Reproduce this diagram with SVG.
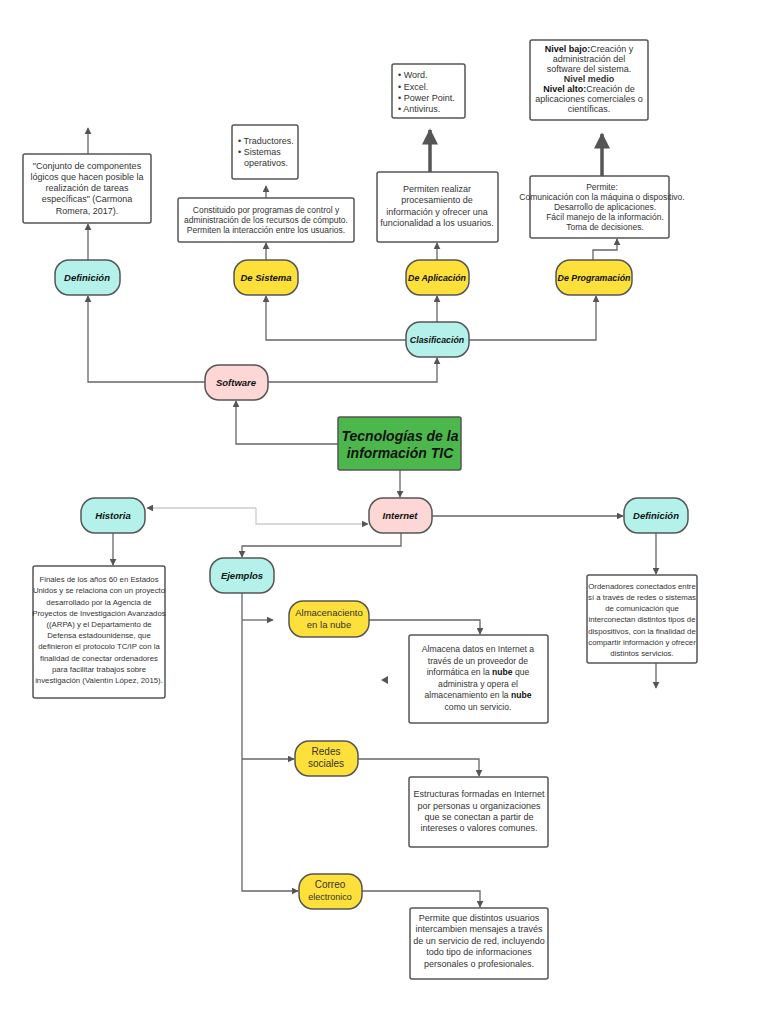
<svg xmlns="http://www.w3.org/2000/svg" width="768" height="1024" viewBox="0 0 768 1024">
<style>
.pill{stroke:#555;stroke-width:1.5}
.cy{fill:#b4f1ea}.ye{fill:#fde03a}.pk{fill:#fdd6d6}
.box{fill:#fff;stroke:#555;stroke-width:1.5}
.pt{font-family:"Liberation Sans",Arial,sans-serif;font-size:9.5px;font-weight:bold;font-style:italic;fill:#111;text-anchor:middle}
.t{font-family:"Liberation Sans",Arial,sans-serif;font-size:9px;fill:#333;text-anchor:middle}
.n{font-family:"Liberation Sans",Arial,sans-serif;font-size:7.8px;fill:#333;text-anchor:middle}
.tl{font-family:"Liberation Sans",Arial,sans-serif;font-size:9px;fill:#333}
.pn{font-family:"Liberation Sans",Arial,sans-serif;font-size:10px;fill:#333;text-anchor:middle}
.c{fill:none;stroke:#666;stroke-width:1.3}
.thick{fill:none;stroke:#555;stroke-width:3.5}
.tic{font-size:14px}
.sm{font-size:8.5px}
.pts{font-size:8.8px}
</style>
<defs>
<marker id="a" viewBox="0 0 10 10" refX="9" refY="5" markerWidth="7" markerHeight="7" markerUnits="userSpaceOnUse" orient="auto"><path d="M0,0L10,5L0,10z" fill="#555"/></marker>
<marker id="big" viewBox="0 0 10 10" refX="9" refY="5" markerWidth="22" markerHeight="16" markerUnits="userSpaceOnUse" orient="auto"><path d="M0,0L10,5L0,10z" fill="#555"/></marker>
</defs>
<rect width="768" height="1024" fill="#fff"/>
<g id="connectors">
<path class="c" d="M338,444H236V401" marker-end="url(#a)"/>
<path class="c" d="M205,382H88V296" marker-end="url(#a)"/>
<path class="c" d="M268,382H437V358" marker-end="url(#a)"/>
<path class="c" d="M406,340H266V296" marker-end="url(#a)"/>
<path class="c" d="M469,340H596V296" marker-end="url(#a)"/>
<path class="c" d="M437,322V296" marker-end="url(#a)"/>
<path class="c" d="M88,260V224" marker-end="url(#a)"/>
<path class="c" d="M88,154V128" marker-end="url(#a)"/>
<path class="c" d="M266,260V243" marker-end="url(#a)"/>
<path class="c" d="M266,198V186" marker-end="url(#a)"/>
<path class="c" d="M437,260V243" marker-end="url(#a)"/>
<path class="thick" d="M430,172V130" marker-end="url(#big)"/>
<path class="c" d="M593,260V250H617V239" marker-end="url(#a)"/>
<path class="thick" d="M602,176V134" marker-end="url(#big)"/>
<path class="c" d="M400,470V497" marker-end="url(#a)"/>
<path d="M256,508H147" fill="none" stroke="#ccc" stroke-width="1.3" marker-end="url(#a)"/>
<path d="M256,508V524H368" fill="none" stroke="#ccc" stroke-width="1.3" marker-end="url(#a)"/>
<path class="c" d="M432,516H623" marker-end="url(#a)"/>
<path class="c" d="M401,533V546H242V557" marker-end="url(#a)"/>
<path class="c" d="M242,593V891H298" marker-end="url(#a)"/>
<path class="c" d="M242,620H273" marker-end="url(#a)"/>
<path class="c" d="M242,759H294" marker-end="url(#a)"/>
<path class="c" d="M369,620H480V634" marker-end="url(#a)"/>
<path class="c" d="M358,759H479V776" marker-end="url(#a)"/>
<path class="c" d="M362,891H480V907" marker-end="url(#a)"/>
<path class="c" d="M113,533V565" marker-end="url(#a)"/>
<path class="c" d="M656,533V574" marker-end="url(#a)"/>
<path class="c" d="M656,663V688" marker-end="url(#a)"/>
<path d="M381,680L388,676V684z" fill="#555"/>
</g>
<g id="def-box"><rect class="box" x="23" y="154" width="128" height="69" rx="2"/>
<text class="t" x="87" y="169">"Conjunto de componentes</text><text class="t" x="87" y="180">lógicos que hacen posible la</text><text class="t" x="87" y="191">realización de tareas</text><text class="t" x="87" y="202">específicas" (Carmona</text><text class="t" x="87" y="214">Romera, 2017).</text></g>
<g id="definicion"><rect class="pill cy" x="55" y="260" width="65" height="35" rx="14"/><text class="pt" x="87" y="281">Definición</text></g>
<g id="sistema-list"><rect class="box" x="232" y="125" width="66" height="54" rx="2"/>
<text class="tl" x="238" y="144">• Traductores.</text><text class="tl" x="238" y="155">• Sistemas</text><text class="tl" x="244" y="166">operativos.</text></g>
<g id="sistema-box"><rect class="box" x="178" y="198" width="176" height="44" rx="2"/>
<text class="t sm" x="266" y="213">Constituido por programas de control y</text><text class="t sm" x="266" y="223">administración de los recursos de cómputo.</text><text class="t sm" x="266" y="233">Permiten la interacción entre los usuarios.</text></g>
<g id="de-sistema"><rect class="pill ye" x="234" y="260" width="64" height="35" rx="14"/><text class="pt" x="266" y="281">De Sistema</text></g>
<g id="word-box"><rect class="box" x="392" y="64" width="73" height="54" rx="2"/>
<text class="tl" x="398" y="78">• Word.</text><text class="tl" x="398" y="90">• Excel.</text><text class="tl" x="398" y="101">• Power Point.</text><text class="tl" x="398" y="112">• Antivirus.</text></g>
<g id="app-box"><rect class="box" x="377" y="172" width="121" height="70" rx="2"/>
<text class="t" x="437" y="192">Permiten realizar</text><text class="t" x="437" y="203">procesamiento de</text><text class="t" x="437" y="215">información y ofrecer una</text><text class="t" x="437" y="226">funcionalidad a los usuarios.</text></g>
<g id="de-aplicacion"><rect class="pill ye" x="406" y="260" width="63" height="35" rx="14"/><text class="pt pts" x="437" y="281">De Aplicación</text></g>
<g id="nivel-box"><rect class="box" x="530" y="40" width="118" height="80" rx="2"/>
<text class="t" x="589" y="52"><tspan font-weight="bold" fill="#111">Nivel bajo:</tspan>Creación y</text><text class="t" x="589" y="62">administración del</text><text class="t" x="589" y="72">software del sistema.</text><text class="t" x="589" y="82" font-weight="bold" fill="#111">Nivel medio</text><text class="t" x="589" y="92"><tspan font-weight="bold" fill="#111">Nivel alto:</tspan>Creación de</text><text class="t" x="589" y="102">aplicaciones comerciales o</text><text class="t" x="589" y="112">científicas.</text></g>
<g id="prog-box"><rect class="box" x="530" y="176" width="139" height="62" rx="2"/>
<text class="t sm" x="602" y="190">Permite:</text><text class="t sm" x="602" y="200">Comunicación con la máquina o dispositivo.</text><text class="t sm" x="605" y="210">Desarrollo de aplicaciones.</text><text class="t sm" x="605" y="220">Fácil manejo de la información.</text><text class="t sm" x="605" y="230">Toma de decisiones.</text></g>
<g id="de-programacion"><rect class="pill ye" x="556" y="260" width="76" height="35" rx="14"/><text class="pt pts" x="594" y="281">De Programación</text></g>
<g id="clasificacion"><rect class="pill cy" x="406" y="322" width="63" height="35" rx="14"/><text class="pt pts" x="437" y="343">Clasificación</text></g>
<g id="software"><rect class="pill pk" x="205" y="365" width="63" height="35" rx="14"/><text class="pt" x="236" y="386">Software</text></g>
<g id="tic"><rect x="338" y="417" width="123" height="53" rx="2" fill="#4cb84c" stroke="#555" stroke-width="1.5"/>
<text class="pt tic" x="400" y="441">Tecnologías de la</text><text class="pt tic" x="400" y="458">información TIC</text></g>
<g id="internet"><rect class="pill pk" x="369" y="498" width="63" height="35" rx="14"/><text class="pt" x="400" y="519">Internet</text></g>
<g id="historia"><rect class="pill cy" x="81" y="498" width="64" height="35" rx="14"/><text class="pt" x="113" y="519">Historia</text></g>
<g id="definicion2"><rect class="pill cy" x="624" y="498" width="64" height="35" rx="14"/><text class="pt" x="656" y="519">Definición</text></g>
<g id="historia-box"><rect class="box" x="33" y="566" width="132" height="132" rx="2"/>
<text class="n" x="99" y="582">Finales de los años 60 en Estados</text><text class="n" x="99" y="593">Unidos y se relaciona con un proyecto</text><text class="n" x="99" y="605">desarrollado por la Agencia de</text><text class="n" x="99" y="616">Proyectos de Investigación Avanzados</text><text class="n" x="99" y="627">((ARPA) y el Departamento de</text><text class="n" x="99" y="638">Defensa estadounidense, que</text><text class="n" x="99" y="649">definieron el protocolo TC/IP con la</text><text class="n" x="99" y="661">finalidad de conectar ordenadores</text><text class="n" x="99" y="672">para facilitar trabajos sobre</text><text class="n" x="99" y="683">investigación (Valentín López, 2015).</text></g>
<g id="ejemplos"><rect class="pill cy" x="210" y="558" width="64" height="35" rx="14"/><text class="pt" x="242" y="579">Ejemplos</text></g>
<g id="def-right-box"><rect class="box" x="587" y="575" width="110" height="88" rx="2"/>
<text class="n" x="642" y="589">Ordenadores conectados entre</text><text class="n" x="642" y="600">sí a través de redes o sistemas</text><text class="n" x="642" y="611">de comunicación que</text><text class="n" x="642" y="622">interconectan distintos tipos de</text><text class="n" x="642" y="634">dispositivos, con la finalidad de</text><text class="n" x="642" y="645">compartir información y ofrecer</text><text class="n" x="642" y="656">distintos servicios.</text></g>
<g id="almacen"><rect class="pill ye" x="289" y="601" width="80" height="36" rx="14"/><text class="n" style="font-size:9.5px" x="329" y="616">Almacenaciento</text><text class="n" style="font-size:9.5px" x="329" y="628">en la nube</text></g>
<g id="almacen-box"><rect class="box" x="409" y="635" width="139" height="88" rx="2"/>
<text class="n" style="font-size:8.6px" x="478" y="652">Almacena datos en Internet a</text><text class="n" style="font-size:8.6px" x="478" y="664">través de un proveedor de</text><text class="n" style="font-size:8.6px" x="478" y="675">informática en la <tspan font-weight="bold" fill="#111">nube</tspan> que</text><text class="n" style="font-size:8.6px" x="478" y="687">administra y opera el</text><text class="n" style="font-size:8.6px" x="478" y="698">almacenamiento en la <tspan font-weight="bold" fill="#111">nube</tspan></text><text class="n" style="font-size:8.6px" x="478" y="710">como un servicio.</text></g>
<g id="redes"><rect class="pill ye" x="295" y="741" width="63" height="35" rx="14"/><text class="pn" x="326" y="755">Redes</text><text class="pn" x="326" y="767">sociales</text></g>
<g id="redes-box"><rect class="box" x="409" y="777" width="139" height="70" rx="2"/>
<text class="t" x="479" y="797">Estructuras formadas en Internet</text><text class="t" x="479" y="809">por personas u organizaciones</text><text class="t" x="479" y="820">que se conectan a partir de</text><text class="t" x="479" y="831">intereses o valores comunes.</text></g>
<g id="correo"><rect class="pill ye" x="299" y="874" width="63" height="35" rx="14"/><text class="pn" x="330" y="888">Correo</text><text class="pn" style="font-size:9px" x="330" y="900">electronico</text></g>
<g id="correo-box"><rect class="box" x="410" y="908" width="138" height="71" rx="2"/>
<text class="t" x="479" y="921">Permite que distintos usuarios</text><text class="t" x="479" y="932">intercambien mensajes a través</text><text class="t" x="479" y="944">de un servicio de red, incluyendo</text><text class="t" x="479" y="955">todo tipo de informaciones</text><text class="t" x="479" y="967">personales o profesionales.</text></g>
</svg>
